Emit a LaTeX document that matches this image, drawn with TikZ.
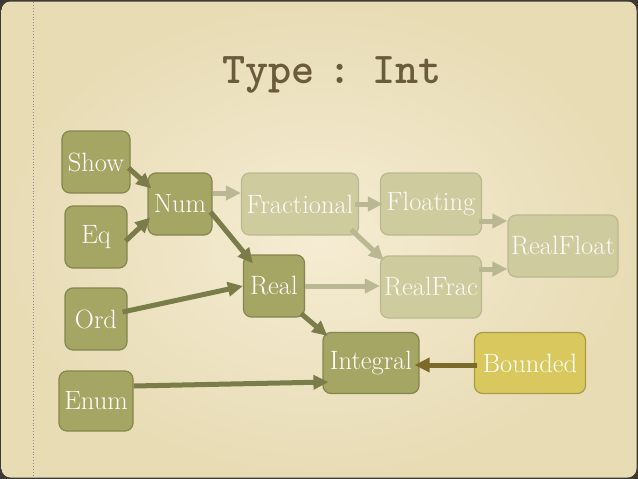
\documentclass[tikz,border=0pt]{standalone}
\usetikzlibrary{arrows.meta}

\definecolor{paper}{HTML}{F5ECD3}
\definecolor{paperedge}{HTML}{E8DCB5}
\definecolor{frame}{HTML}{3C3A33}
\definecolor{titlecol}{HTML}{6A5B3C}
\definecolor{olive}{HTML}{A5A564}
\definecolor{olivedraw}{HTML}{85864F}
\definecolor{pale}{HTML}{CECB9E}
\definecolor{paledraw}{HTML}{BDB98F}
\definecolor{gold}{HTML}{D8C85E}
\definecolor{golddraw}{HTML}{A99B48}
\definecolor{darrcol}{HTML}{7A7C4A}
\definecolor{larrcol}{HTML}{BAB793}
\definecolor{barrcol}{HTML}{7B6A2A}

\tikzset{
  classbox/.style={rounded corners=8pt, line width=1.2pt, inner sep=0pt,
    font=\fontsize{26.5}{30}\selectfont},
  darkbox/.style={classbox, fill=olive, draw=olivedraw, text=white},
  lightbox/.style={classbox, fill=pale, draw=paledraw, text=white!92!pale},
  goldbox/.style={classbox, fill=gold, draw=golddraw, text=white},
  darr/.style={line width=5pt, draw=darrcol, -{Triangle[length=15pt,width=14pt]}},
  larr/.style={line width=5pt, draw=larrcol, -{Triangle[length=15pt,width=14pt]}},
  barr/.style={line width=5pt, draw=barrcol, -{Triangle[length=15pt,width=14pt]}},
}

\begin{document}
\begin{tikzpicture}[x=1pt, y=-1pt]
        % slide background
        \fill[frame] (0,0) rectangle (638,479);
        \shade[rounded corners=9pt, inner color=paper, outer color=paperedge]
            (1.5,1.5) rectangle (636.5,477.5);
        \useasboundingbox (0,0) rectangle (638,479);
        \draw[frame!60, line width=0.9pt, dotted] (33,2) -- (33,477);

        % title
        \node[text=titlecol, font=\ttfamily\bfseries\fontsize{44}{48}\selectfont] (title) at (332,75) {\spaceskip=0.3em\relax Type : Int};

        % classes
        \node[darkbox, minimum width=68pt, minimum height=62pt] (show) at (96,162) {Show};
        \node[darkbox, minimum width=62pt, minimum height=62pt] (eq) at (96,237) {Eq};
        \node[darkbox, minimum width=62pt, minimum height=62pt] (ord) at (96,319) {Ord};
        \node[darkbox, minimum width=74pt, minimum height=60pt] (enum) at (96,401) {Enum};
        \node[darkbox, minimum width=64pt, minimum height=62pt] (num) at (180,204) {Num};
        \node[lightbox, minimum width=117pt, minimum height=62pt] (frac) at (300,204) {Fractional};
        \node[lightbox, minimum width=101pt, minimum height=62pt] (floating) at (431,204) {Floating};
        \node[lightbox, minimum width=110pt, minimum height=62pt] (realfloat) at (563,246) {RealFloat};
        \node[darkbox, minimum width=61pt, minimum height=62pt] (real) at (274,286) {Real};
        \node[lightbox, minimum width=101pt, minimum height=62pt] (realfrac) at (431,287) {RealFrac};
        \node[darkbox, minimum width=96pt, minimum height=61pt] (integral) at (371,363) {Integral};
        \node[goldbox, minimum width=111pt, minimum height=61pt] (bounded) at (530,363) {Bounded};

        % pale arrows
        \draw[larr] ([yshift=11pt]num.east) -- ([yshift=11pt]frac.west);
        \draw[larr] ([xshift=-4pt]frac.east) -- ([xshift=3pt]floating.west);
        \draw[larr] ([xshift=-8pt,yshift=6pt]frac.south east) -- ([xshift=4pt,yshift=-5pt]realfrac.north west);
        \draw[larr] (real.east) -- (real.east -| realfrac.west);
        \draw[larr] ([xshift=-3pt,yshift=-17pt]floating.east) -- ([yshift=-17pt]floating.east -| realfloat.west);
        \draw[larr] ([xshift=-3pt,yshift=18pt]realfrac.east) -- ([yshift=18pt]realfrac.east -| realfloat.west);

        % dark arrows
        \draw[darr] ([xshift=-2pt,yshift=-6pt]show.east) -- ([xshift=4pt,yshift=-16pt]num.north west);
        \draw[darr] ([xshift=-2pt,yshift=-4pt]eq.east) -- ([xshift=3pt,yshift=18pt]num.south west);
        \draw[darr] ([xshift=-2pt,yshift=-8pt]num.east) -- ([xshift=10pt,yshift=-9pt]real.north west);
        \draw[darr] ([xshift=-5pt,yshift=7pt]ord.east) -- (real.west);
        \draw[darr] ([xshift=-4pt,yshift=4pt]real.south east) -- ([xshift=5pt,yshift=-4pt]integral.north west);
        \draw[darr] ([yshift=15pt]enum.east) -- ([xshift=6pt,yshift=-19pt]integral.west);
        \draw[barr] ([xshift=3pt,yshift=-2pt]bounded.west) -- ([xshift=-5pt,yshift=-2pt]integral.east);

\end{tikzpicture}
\end{document}
